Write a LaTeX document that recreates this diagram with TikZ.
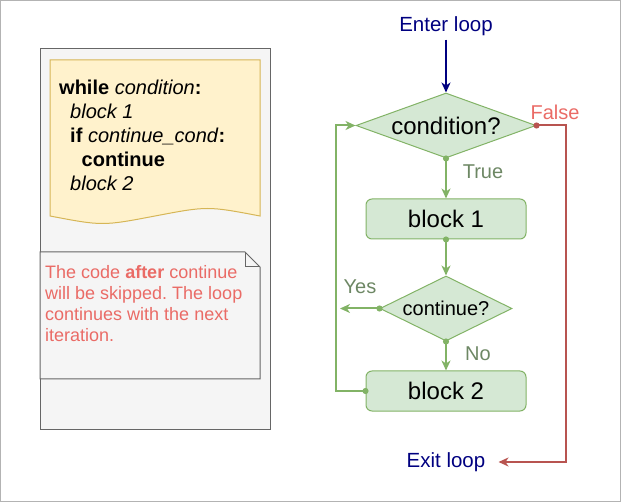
\documentclass[tikz,border=0pt]{standalone}
\usepackage{fontspec}
\setmainfont{Liberation Sans}
\usetikzlibrary{shapes.geometric,arrows.meta}
\frenchspacing
\definecolor{navyblue}{HTML}{000080}
\definecolor{flowline}{HTML}{82B366}
\definecolor{flowfill}{HTML}{D5E8D4}
\definecolor{flowtext}{HTML}{6D8764}
\definecolor{falseline}{HTML}{B85450}
\definecolor{notetext}{HTML}{EA6B66}
\definecolor{panelfill}{HTML}{F5F5F5}
\definecolor{panelline}{HTML}{666666}
\definecolor{codefill}{HTML}{FFF2CC}
\definecolor{codeline}{HTML}{D6B656}
\definecolor{frameline}{HTML}{B3B3B3}
\begin{document}
\begin{tikzpicture}[x=1pt, y=-1pt,
    panel/.style={draw=panelline, fill=panelfill, line width=1pt},
    blockbox/.style={draw=flowline, fill=flowfill, line width=1pt, rounded corners=6pt,
      minimum width=160pt, minimum height=40pt, inner sep=0pt, font=\fontsize{24}{28}\selectfont},
    choice/.style={draw=flowline, fill=flowfill, line width=1pt, diamond, inner sep=0pt},
    link/.style={draw=flowline, line width=2pt, -{Stealth[length=10pt,width=9pt,inset=3pt]}},
    dotlink/.style={link, {Circle[length=6pt]}-{Stealth[length=10pt,width=9pt,inset=3pt]}, shorten <=-3pt},
    flowlabel/.style={text=flowtext, font=\fontsize{20}{24}\selectfont},
    endlabel/.style={text=navyblue, font=\fontsize{20.5}{24}\selectfont}]
    \useasboundingbox (0,0) rectangle (621,502);
    \draw[frameline, line width=1pt] (0.5,0.5) rectangle (620.5,501.5);
    \draw[panel] (40,49) rectangle (270,429);
    \draw[draw=codeline, fill=codefill, line width=1pt] (50,60) -- (260,60) -- (260,216)
      .. controls (207.5,206) .. (155,216) .. controls (102.5,226) .. (50,216) -- cycle;
    \node[anchor=north west, inner sep=0pt, align=left, font=\fontsize{20}{24}\selectfont] (codetext) at (59,79.5)
      {\textbf{while} \textit{condition}\textbf{:}\\
       \hspace*{11pt}\textit{block 1}\\
       \hspace*{11pt}\textbf{if} \textit{continue\_cond}\textbf{:}\\
       \hspace*{22.5pt}\textbf{continue}\\
       \hspace*{11pt}\textit{block 2}};
    \draw[panel] (40,252) -- (245,252) -- (260,267) -- (260,379) -- (40,379) -- cycle;
    \draw[panelline, line width=1pt] (245,252) -- (245,267) -- (260,267);
    \node[anchor=north west, inner sep=0pt, align=left, text=notetext, font=\fontsize{18}{21}\selectfont] (notetext) at (45,265.5)
      {The code \textbf{after} continue\\
       will be skipped. The loop\\
       continues with the next\\
       iteration.};
    \node[endlabel, inner ysep=4pt] (enterloop) at (446,26) {Enter loop};
    \node[choice, minimum width=180pt, minimum height=65pt, aspect=2.77, font=\fontsize{24}{28}\selectfont] (cond) at (446,125.5) {condition?};
    \node[blockbox] (block1) at (446,219) {block 1};
    \node[choice, minimum width=132pt, minimum height=65pt, aspect=2.03, font=\fontsize{20}{24}\selectfont] (cont) at (446,308.5) {continue?};
    \node[blockbox] (block2) at (446,391) {block 2};
    \node[endlabel, inner xsep=13pt] (exitloop) at (446,462) {Exit loop};
    \coordinate (loopx) at (336,391);
    \coordinate (yesend) at (340,308.5);
    \coordinate (falsex) at (566,125.5);
    \draw[navyblue, line width=2pt, -{Stealth[length=10pt,width=9pt,inset=3pt]}] (enterloop.south) -- (cond.north);
    \draw[dotlink] (cond.south) -- (block1.north);
    \draw[dotlink] (block1.south) -- (cont.north);
    \draw[dotlink] (cont.south) -- (block2.north);
    \draw[dotlink] (cont.west) -- (yesend);
    \draw[dotlink] (block2.west) -- (loopx) |- (cond.west);
    \draw[dotlink, draw=falseline] (cond.east) -- (falsex) |- (exitloop.east);
    \node[flowlabel] (truelbl) at (483,172) {True};
    \node[flowlabel] (yeslbl) at (360,287) {Yes};
    \node[flowlabel] (nolbl) at (478,354) {No};
    \node[flowlabel, text=notetext] (falselbl) at (555,112) {False};
\end{tikzpicture}
\end{document}
